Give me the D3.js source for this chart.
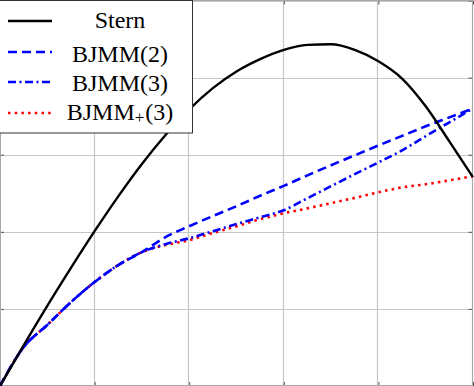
<!DOCTYPE html>
<html>
<head>
<meta charset="utf-8">
<script src="https://cdn.jsdelivr.net/npm/d3@7"></script>
<style>
	body { margin: 0; background: #fff; }
	svg { display: block; }
</style>
</head>
<body>
<svg id="chart" width="474" height="386"></svg>
<script>
// x positions shared by every series
var xValues = [0, 0.05, 0.1, 0.15, 0.2, 0.25, 0.3, 0.35, 0.4, 0.45, 0.5,
	0.55, 0.6, 0.65, 0.7, 0.75, 0.8, 0.85, 0.9, 0.95, 1];

var sternValues = [0, 0.0132, 0.0260, 0.0383, 0.0502, 0.0615, 0.0720, 0.0814, 0.0897, 0.0966, 0.1020,
	0.1060, 0.1090, 0.1106, 0.1108, 0.1090, 0.1053, 0.0997, 0.0907, 0.0793, 0.0677];

var bjmm2Values = [0, 0.0126, 0.0198, 0.0272, 0.0337, 0.0392, 0.0434, 0.0483, 0.0518, 0.0551, 0.0583,
	0.0617, 0.0649, 0.0683, 0.0716, 0.0748, 0.0780, 0.0811, 0.0842, 0.0871, 0.0900];

var bjmm3Values = [0, 0.0126, 0.0198, 0.0272, 0.0337, 0.0392, 0.0434, 0.0460, 0.0479, 0.0502, 0.0525,
	0.0547, 0.0570, 0.0609, 0.0648, 0.0687, 0.0725, 0.0764, 0.0810, 0.0855, 0.0900];

var bjmmPlusValues = [0, 0.0126, 0.0198, 0.0272, 0.0337, 0.0392, 0.0434, 0.0457, 0.0473, 0.0496, 0.0518,
	0.0541, 0.0560, 0.0576, 0.0593, 0.0610, 0.0628, 0.0644, 0.0654, 0.0667, 0.0680];

var xTicks = [0, 0.2, 0.4, 0.6, 0.8, 1];
var yTicks = [0, 0.025, 0.05, 0.075, 0.1, 0.125];

var seriesNames = ["Stern", "BJMM(2)", "BJMM(3)", "BJMM+(3)"];

var width = 474,
	height = 386;
var margin = { left: 0, right: 1, top: 0.5, bottom: 0 };

var svg = d3.select("#chart");

var xScale = d3.scaleLinear()
	.domain([0, 1])
	.range([margin.left, width - margin.right]);

var yScale = d3.scaleLinear()
	.domain([0, 0.125])
	.range([height - margin.bottom, margin.top]);

// grid
var grid = svg.append("g").attr("class", "grid");

grid.selectAll("line.vx")
	.data(xTicks)
	.enter()
	.append("line")
	.attr("class", "vx")
	.attr("x1", function(d) { return Math.round(xScale(d)) - 0.5; })
	.attr("x2", function(d) { return Math.round(xScale(d)) - 0.5; })
	.attr("y1", yScale(0))
	.attr("y2", yScale(0.125))
	.attr("stroke", "#c6c6c6")
	.attr("stroke-width", 1.2);

grid.selectAll("line.hy")
	.data(yTicks)
	.enter()
	.append("line")
	.attr("class", "hy")
	.attr("x1", xScale(0))
	.attr("x2", xScale(1))
	.attr("y1", function(d) { return Math.round(yScale(d)) + 0.5; })
	.attr("y2", function(d) { return Math.round(yScale(d)) + 0.5; })
	.attr("stroke", "#c6c6c6")
	.attr("stroke-width", 1.2);

// axes, only ticks on the frame (labels fall outside the picture)
var tickLen = 4;
function tickStyle(g) {
	g.select(".domain").remove();
	g.selectAll("line").attr("stroke", "#555");
}

svg.append("g")
	.attr("transform", "translate(0," + yScale(0) + ")")
	.call(d3.axisTop(xScale).tickValues(xTicks).tickSize(tickLen).tickFormat(""))
	.call(tickStyle);

svg.append("g")
	.attr("transform", "translate(0," + yScale(0.125) + ")")
	.call(d3.axisBottom(xScale).tickValues(xTicks).tickSize(tickLen).tickFormat(""))
	.call(tickStyle);

svg.append("g")
	.attr("transform", "translate(" + xScale(0) + ",0)")
	.call(d3.axisRight(yScale).tickValues(yTicks).tickSize(tickLen).tickFormat(""))
	.call(tickStyle);

svg.append("g")
	.attr("transform", "translate(" + (xScale(1) - 0.5) + ",0)")
	.call(d3.axisLeft(yScale).tickValues(yTicks).tickSize(tickLen).tickFormat(""))
	.call(tickStyle);

// frame
svg.append("rect")
	.attr("x", xScale(0) + 0.5)
	.attr("y", yScale(0.125))
	.attr("width", xScale(1) - xScale(0) - 1)
	.attr("height", yScale(0) - yScale(0.125) - 0.5)
	.attr("fill", "none")
	.attr("stroke", "#a8a8a8")
	.attr("stroke-width", 1);

// series
var styles = [
	{ color: "#000000", dash: null, width: 2.4 },
	{ color: "#0000ff", dash: "9,5", width: 2.6 },
	{ color: "#0000ff", dash: "8,3.5,2,3.5", width: 2.6 },
	{ color: "#ff0000", dash: "2.5,4.2", width: 2.6 }
];
var allSeries = [sternValues, bjmm2Values, bjmm3Values, bjmmPlusValues];

var line = d3.line()
	.x(function(d, i) { return xScale(xValues[i]); })
	.y(function(d) { return yScale(d); })
	.curve(d3.curveMonotoneX);

var content = svg.append("g").attr("class", "content");

// red first so blue lies on top, black last
[3, 2, 1, 0].forEach(function(k) {
	content.append("path")
		.datum(allSeries[k])
		.attr("d", line)
		.attr("fill", "none")
		.attr("stroke", styles[k].color)
		.attr("stroke-width", styles[k].width)
		.attr("stroke-dasharray", styles[k].dash)
		.attr("stroke-linejoin", "round");
});

// legend
var legend = svg.append("g").attr("class", "legend");

legend.append("rect")
	.attr("x", -1)
	.attr("y", 0.5)
	.attr("width", 193.5)
	.attr("height", 132.5)
	.attr("fill", "#fff")
	.attr("stroke", "#333")
	.attr("stroke-width", 1);

var rowY = [21, 52, 82, 113];
var textY = [28, 62, 91, 120];

seriesNames.forEach(function(name, i) {
	legend.append("line")
		.attr("x1", 8)
		.attr("x2", 52)
		.attr("y1", rowY[i])
		.attr("y2", rowY[i])
		.attr("stroke", styles[i].color)
		.attr("stroke-width", styles[i].width)
		.attr("stroke-dasharray", styles[i].dash);

	var t = legend.append("text")
		.attr("x", 120)
		.attr("y", textY[i])
		.attr("text-anchor", "middle")
		.attr("font-family", "'Liberation Serif', 'Times New Roman', serif")
		.attr("font-size", 24)
		.attr("fill", "#000");

	if (name.indexOf("+") > -1) {
		t.append("tspan").text("BJMM");
		t.append("tspan").attr("font-size", 17).attr("dy", 2.5).text("+");
		t.append("tspan").attr("dy", -2.5).attr("dx", 1).text("(3)");
	} else {
		t.text(name);
	}
});
</script>
</body>
</html>
